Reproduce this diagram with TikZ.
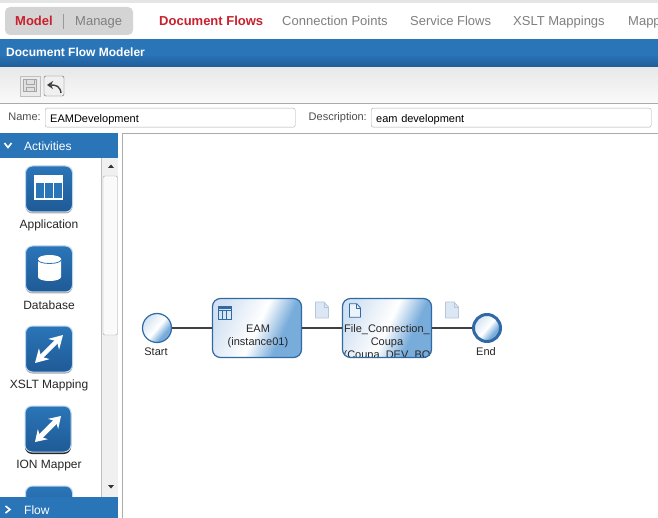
\documentclass[tikz,border=0pt]{standalone}
\usepackage{fontspec}
\setmainfont{Liberation Sans}
\usetikzlibrary{arrows.meta,shadows}
\definecolor{barblue}{HTML}{2A75B8}
\definecolor{bardark}{HTML}{1F5A96}
\definecolor{tabred}{HTML}{C8202C}
\definecolor{tabgray}{HTML}{7F7F7F}
\definecolor{rulegray}{HTML}{ABABAB}
\definecolor{nodeblue}{HTML}{2F6AA5}
\definecolor{fillblue}{HTML}{78ACDB}
\definecolor{fillpale}{HTML}{D3E2F2}
\definecolor{pageblue}{HTML}{DCE7F5}
\definecolor{pageedge}{HTML}{B9C6D6}
\definecolor{iconedge}{HTML}{BBD6EE}
\pgfdeclarehorizontalshading{nodefill}{100bp}{color(0bp)=(fillpale); color(25bp)=(fillpale); color(50bp)=(white); color(66bp)=(fillblue); color(100bp)=(fillblue)}
\newcommand{\fsize}[1]{\fontsize{#1}{#1}\selectfont}
\tikzset{
  tabtext/.style={anchor=base west, inner sep=0pt, text=tabgray, font=\fsize{13}},
  tabactive/.style={tabtext, text=tabred, font=\fsize{13}\bfseries},
  fieldlabel/.style={anchor=base east, inner sep=0pt, text=black!70, font=\fsize{11}},
  fieldbox/.style={draw=rulegray, rounded corners=2pt, fill=white, anchor=north west, inner sep=0pt, minimum height=19pt, text=black, font=\fsize{11}, align=left},
  headtext/.style={anchor=base west, inner sep=0pt, text=white, font=\fsize{12}},
  paletteicon/.style={draw=iconedge, line width=1pt, rounded corners=7pt, minimum width=47pt, minimum height=46pt, top color=barblue, bottom color=bardark, inner sep=0pt, drop shadow={shadow xshift=0pt, shadow yshift=-1.5pt, fill=black, opacity=.35}},
  palettetext/.style={inner sep=0pt, text=black!85, font=\fsize{12}},
  flownode/.style={draw=nodeblue, line width=1.2pt, rounded corners=8pt, minimum width=89pt, minimum height=59pt, inner sep=0pt, shading=nodefill, shading angle=-25},
  flowtext/.style={inner sep=0pt, align=center, text=black!85, font=\fsize{11}, text depth=0pt},
  startevent/.style={circle, draw=nodeblue, line width=1.2pt, minimum size=29pt, inner sep=0pt, shading=nodefill, shading angle=-40},
  endevent/.style={startevent, line width=3pt, minimum size=27pt},
  flowline/.style={draw=black!75, line width=1.6pt},
  whiteglyph/.style={fill=white, draw=none},
  pics/pageicon/.style n args={2}{code={
    \filldraw[draw=#1, fill=#2, line width=.8pt, line join=round] (-6.5,-8) -- (2,-8) -- (6.5,-3) -- (6.5,8) -- (-6.5,8) -- cycle;
    \draw[draw=#1, line width=.8pt, line join=round] (2,-8) -- (2,-3) -- (6.5,-3);
  }}
}
\begin{document}
\begin{tikzpicture}[x=1pt, y=-1pt]
  \useasboundingbox (0,0) rectangle (658,518);
  \fill[white] (0,0) rectangle (658,518);
  % top tabs
  \fill[black!10] (0,0) rectangle (658,3);
  \node[draw=none, fill=black!17, rounded corners=5pt, minimum width=128pt, minimum height=28pt, inner sep=0pt] (modelbox) at (69,21) {};
  \node[tabactive] (modeltab) at (15,26) {Model};
  \node[tabtext] (managetab) at (75,26) {Manage};
  \draw[black!40, line width=1pt] (63.5,14) -- (63.5,29);
  \node[tabactive] (flowstab) at (159,26) {Document Flows};
  \node[tabtext] (pointstab) at (282,26) {Connection Points};
  \node[tabtext] (servicetab) at (410,26) {Service Flows};
  \node[tabtext] (xslttab) at (513,26) {XSLT Mappings};
  \node[tabtext] (mapptab) at (628,26) {Mapp};
  % title bar
  \shade[top color=barblue, bottom color=bardark, middle color=barblue] (0,40) rectangle (658,68);
  \node[headtext, font=\fsize{12}\bfseries] (titletext) at (6,57) {Document Flow Modeler};
  % toolbar
  \shade[top color=black!9, bottom color=black!2] (0,68) rectangle (658,103);
  \draw[rulegray] (0,103.5) -- (658,103.5);
  \node[draw=black!25, fill=black!8, minimum size=20pt, inner sep=0pt] (savebtn) at (30,86) {};
  \filldraw[draw=black!35, fill=black!12, line width=1pt] (23.5,80) rectangle (36.5,92);
  \draw[black!35, line width=1pt] (26,80) rectangle (34,85) (26,92) rectangle (34,88);
  \node[draw=black!60, fill=black!6, rounded corners=1.5pt, minimum size=20pt, inner sep=0pt] (undobtn) at (54,86) {};
  \draw[-{Stealth[length=6pt,width=8pt]}, black!75, line width=1.4pt] (61,93) .. controls (60,86) and (56,85) .. (47,85);
  % name row
  \node[fieldlabel] (namelabel) at (41,121) {Name:};
  \node[fieldbox, minimum width=250pt, text width=245pt, text depth=0pt] (namefield) at (45,108) {\hspace*{2.5pt}\raisebox{-1pt}{EAMDevelopment}};
  \node[fieldlabel] (desclabel) at (367,121) {Description:};
  \node[fieldbox, minimum width=280pt, text width=275pt, text depth=0pt] (descfield) at (371,108) {\hspace*{2.5pt}\raisebox{-1pt}{eam development}};
  \draw[rulegray] (122,133.5) -- (658,133.5);
  \draw[rulegray] (122.5,133) -- (122.5,518);
  % side palette
  \fill[black!6] (102,158) rectangle (118,497);
  \draw[black!25] (101.5,158) -- (101.5,497);
  \filldraw[draw=black!35, fill=black!2, rounded corners=2pt] (103,176) rectangle (117.5,335);
  \fill[black!80] (108,168) -- (111,164.5) -- (114,168) -- cycle;
  \fill[black!80] (108,485) -- (111,488.5) -- (114,485) -- cycle;
  % palette icons
  \node[paletteicon] (appicon) at (49,189) {};
  \filldraw[whiteglyph] (34,175) rectangle (63,200);
  \foreach \colx in {36,45,54} {
    \fill[barblue] (\colx,183) rectangle ++(7.5,15);
  }
  \node[palettetext] (applabel) at (49,225.5) {Application};
  \node[paletteicon] (dbicon) at (49,269) {};
  \fill[white] (38,259) -- (38,277) arc[start angle=180, end angle=360, x radius=11.5pt, y radius=4pt] -- (61,259) -- cycle;
  \fill[white] (49.5,259) ellipse[x radius=11.5pt, y radius=4pt];
  \draw[barblue, line width=.8pt] (38,260) arc[start angle=180, end angle=360, x radius=11.5pt, y radius=3.5pt];
  \node[palettetext] (dblabel) at (49,305.5) {Database};
  \node[paletteicon] (xslticon) at (49,349) {};
  \draw[{Stealth[length=13pt,width=15pt]}-{Stealth[length=13pt,width=15pt]}, white, line width=4.5pt] (35,363) -- (63,335);
  \node[palettetext] (xsltlabel) at (49,385.5) {XSLT Mapping};
  \node[paletteicon, minimum width=46pt, drop shadow={shadow xshift=0pt, shadow yshift=-2pt, fill=black, opacity=.8}] (ionicon) at (48,429) {};
  \draw[{Stealth[length=11pt,width=14pt]}-{Stealth[length=11pt,width=14pt]}, white, line width=5pt] (35,442) -- (61,416);
  \node[palettetext] (ionlabel) at (49,465.5) {ION Mapper};
  \begin{scope}
    \clip (0,470) rectangle (118,497);
    \node[paletteicon] (moreicon) at (49,509) {};
  \end{scope}
  \fill[barblue] (0,133) rectangle (118,158);
  \node[headtext] (activitiestext) at (24,150.5) {Activities};
  \draw[white, line width=1.6pt] (4.5,143) -- (8,147.5) -- (11.5,143);
  \fill[barblue] (0,497) rectangle (118,518);
  \node[headtext] (flowlabel) at (24,514) {Flow};
  \draw[white, line width=1.6pt] (5.5,506) -- (10,509.5) -- (5.5,513);
  % flow
  \node[startevent] (start) at (157,328) {};
  \node[flownode] (eam) at (257,328) {};
  \node[flownode, path picture={
    \node[flowtext] at (0,13.5) {File\_Connection\_\\[2pt]Coupa\\[2pt](Coupa\_DEV\_BO};
  }] (fileconn) at (387,328) {};
  \node[endevent] (end) at (487,328) {};
  \draw[flowline] (start) -- (eam);
  \draw[flowline] (eam) -- (fileconn);
  \draw[flowline] (fileconn) -- (end);
  \node[flowtext] (eamtext) at (258,335) {EAM\\[2pt](instance01)};
  \node[palettetext, font=\fsize{11}] (startlabel) at (156,351.5) {Start};
  \node[palettetext, font=\fsize{11}] (endlabel) at (486,351.5) {End};
  % small icons on the flow
  \draw[nodeblue, line width=.9pt] (218.5,306.5) rectangle (231,319) (218.5,310) -- (231,310) (222.7,310) -- (222.7,319) (226.8,310) -- (226.8,319);
  \fill[nodeblue] (218.5,306.5) rectangle (231,309.5);
  \pic[scale=.85] at (355,310.5) {pageicon={nodeblue}{white!60!fillpale}};
  \pic at (322,310) {pageicon={pageedge}{pageblue}};
  \pic at (452,310) {pageicon={pageedge}{pageblue}};
\end{tikzpicture}
\end{document}
